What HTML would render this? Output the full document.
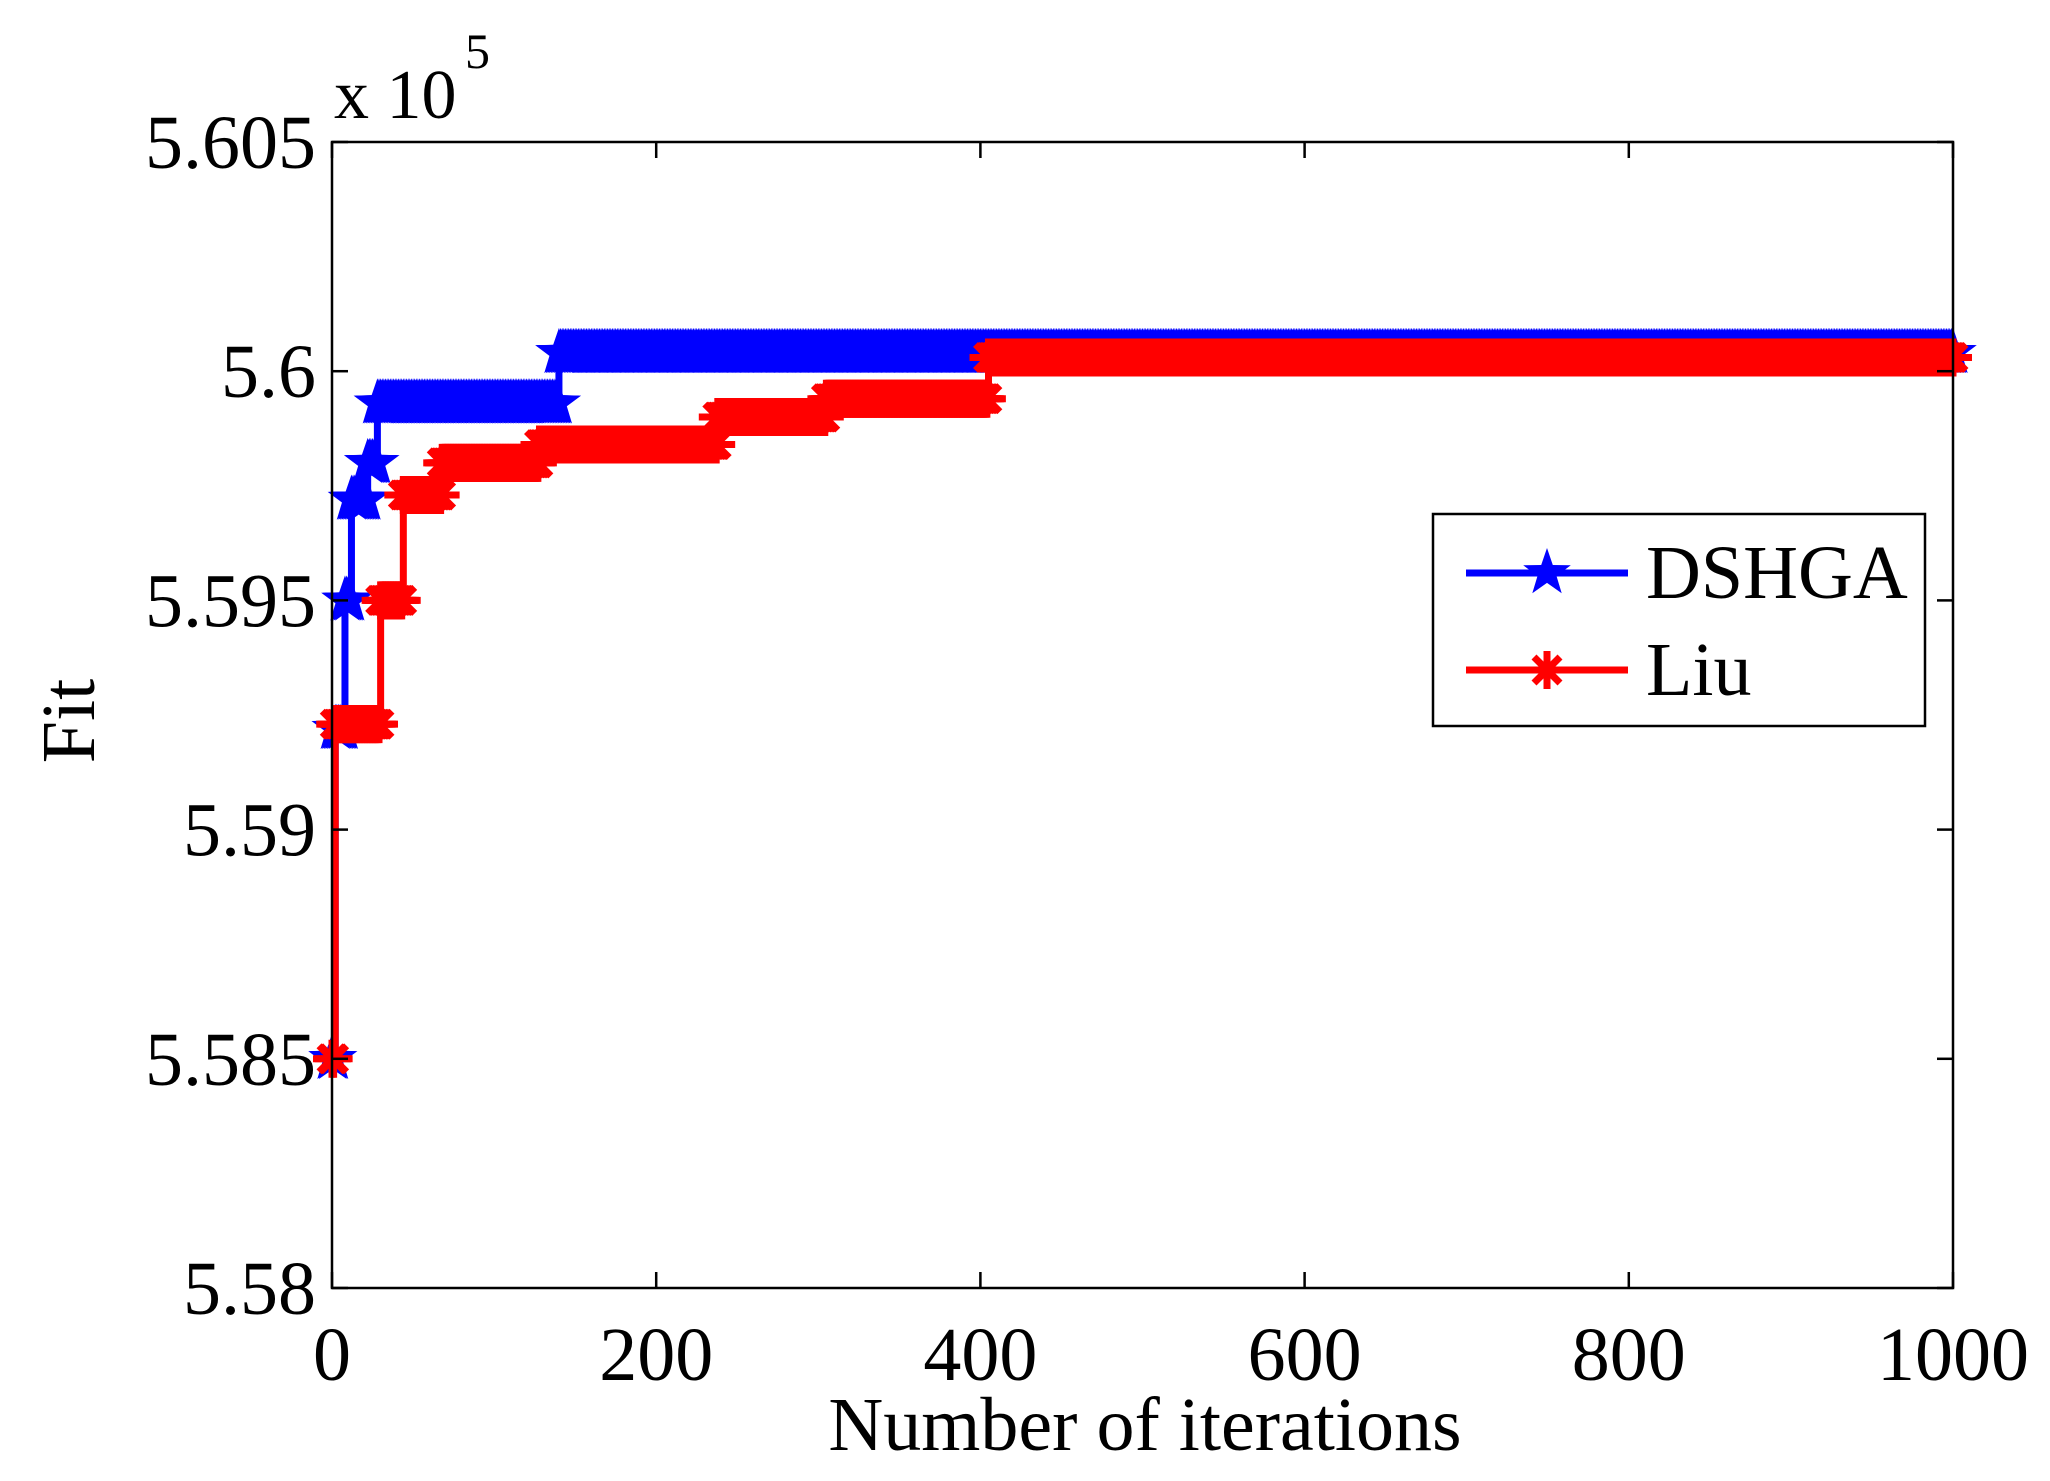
<!DOCTYPE html>
<html><head><meta charset="utf-8"><style>
html,body{margin:0;padding:0;background:#fff;}
svg{display:block;}
text{font-family:"Liberation Serif",serif;fill:#000;}
</style></head><body>
<svg id="s" width="2050" height="1481" viewBox="0 0 2050 1481" xmlns="http://www.w3.org/2000/svg">
<defs>
<path id="star" d="M0,-25 L5.8,-8 L23.8,-7.7 L9.5,3 L14.7,20.2 L0,9.9 L-14.7,20.2 L-9.5,3 L-23.8,-7.7 L-5.8,-8 Z" fill="#0000ff"/>
<g id="ast" stroke="#ff0000" stroke-width="7"><line x1="-19" y1="0" x2="19" y2="0"/><line x1="0" y1="-19" x2="0" y2="19"/><line x1="-13" y1="-13" x2="13" y2="13"/><line x1="-13" y1="13" x2="13" y2="-13"/></g>
</defs>
<g id="series"></g>
<g id="legend">
<rect x="1433" y="514" width="492" height="212" fill="#fff" stroke="#000" stroke-width="2.5"/>
<line x1="1466" y1="573" x2="1628" y2="573" stroke="#0000ff" stroke-width="7"/>
<use href="#star" x="1547" y="573"/>
<text x="1646" y="598" font-size="76">DSHGA</text>
<line x1="1466" y1="670" x2="1628" y2="670" stroke="#ff0000" stroke-width="7"/>
<use href="#ast" x="1547" y="670"/>
<text x="1646" y="695" font-size="76">Liu</text>
</g>
<g id="axes" stroke="#000" stroke-width="2.5" fill="none">
<rect x="332" y="142" width="1621" height="1146"/>
</g>
<g id="ticks" stroke="#000" stroke-width="2.5"></g>
<g id="labels" font-size="76"></g>
<text x="334" y="118" font-size="70">x 10</text>
<text x="465" y="68" font-size="50">5</text>
<text x="1145" y="1450" font-size="76" text-anchor="middle">Number of iterations</text>
<text x="0" y="0" font-size="76" text-anchor="middle" transform="translate(94,721) rotate(-90)">Fit</text>
</svg>
<script>
var NS="http://www.w3.org/2000/svg";
function X(i){return 332+i*1.621;}
function Y(v){return 1288-(v-5.58)/0.005*229.2;}
function lvl(steps,i){var v=steps[0][1];for(var k=0;k<steps.length;k++){if(i>=steps[k][0])v=steps[k][1];}return v;}
var blue=[[0,5.585],[2,5.5922],[8,5.595],[12,5.5972],[22,5.598],[28,5.5993],[140,5.6004]];
var red=[[0,5.585],[2,5.5923],[30,5.595],[44,5.5973],[68,5.598],[128,5.5984],[238,5.599],[305,5.5994],[405,5.6003]];
var g=document.getElementById("series");
function draw(steps,col,mk){
 var pts=[];var prev=null;
 for(var i=0;i<=1000;i++){var v=lvl(steps,i);if(prev!==null&&v!==prev){pts.push(X(i)+","+Y(prev));}pts.push(X(i)+","+Y(v));prev=v;}
 var pl=document.createElementNS(NS,"polyline");pl.setAttribute("points",pts.join(" "));pl.setAttribute("fill","none");pl.setAttribute("stroke",col);pl.setAttribute("stroke-width","7");g.appendChild(pl);
 for(var i=0;i<=1000;i++){var u=document.createElementNS(NS,"use");u.setAttribute("href",mk);u.setAttribute("x",X(i));u.setAttribute("y",Y(lvl(steps,i)));g.appendChild(u);}
}
draw(blue,"#0000ff","#star");
draw(red,"#ff0000","#ast");
var t=document.getElementById("ticks"),L=document.getElementById("labels");
function ln(a,b,c,d){var l=document.createElementNS(NS,"line");l.setAttribute("x1",a);l.setAttribute("y1",b);l.setAttribute("x2",c);l.setAttribute("y2",d);t.appendChild(l);}
function tx(x,y,s,anc){var e=document.createElementNS(NS,"text");e.setAttribute("x",x);e.setAttribute("y",y);e.setAttribute("text-anchor",anc);e.textContent=s;L.appendChild(e);}
for(var k=0;k<=5;k++){var x=X(k*200);ln(x,1288,x,1272);ln(x,142,x,158);tx(x,1380,String(k*200),"middle");}
var yl=["5.58","5.585","5.59","5.595","5.6","5.605"];
for(var k=0;k<=5;k++){var y=1288-k*229.2;ln(332,y,348,y);ln(1953,y,1937,y);tx(316,y+26,yl[k],"end");}
</script>
</body></html>
